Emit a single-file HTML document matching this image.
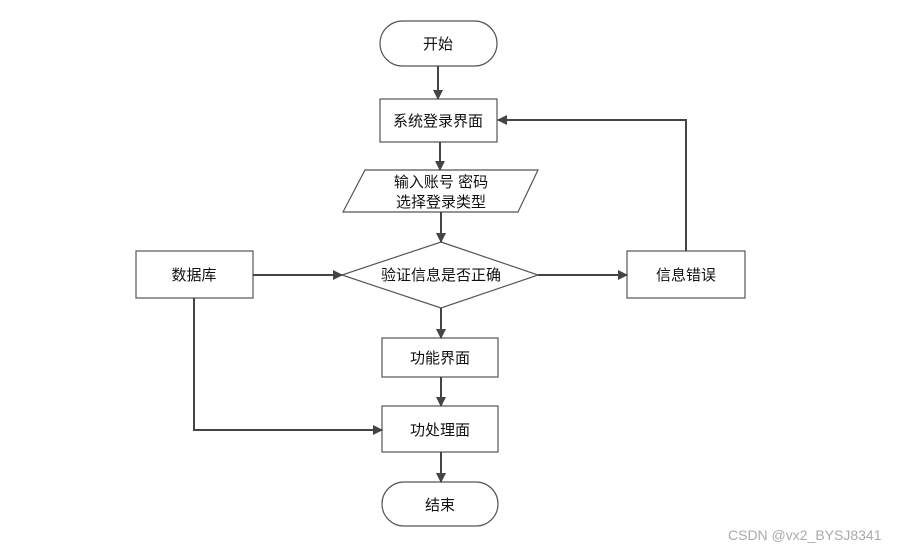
<!DOCTYPE html>
<html><head><meta charset="utf-8"><style>
body{margin:0;background:#fff;}
svg text{font-family:"Liberation Sans","Noto Sans CJK SC",sans-serif;font-size:15px;fill:#111;}
</style></head><body>
<svg width="915" height="549" xmlns="http://www.w3.org/2000/svg">
<defs><marker id="a" markerWidth="10" markerHeight="10" refX="9" refY="5" orient="auto" markerUnits="userSpaceOnUse"><path d="M0,0 L10,5 L0,10 z" fill="#444"/></marker></defs>
<g fill="#fff" stroke="#555" stroke-width="1.2">
<rect x="380" y="21" width="117" height="45" rx="22.5"/>
<rect x="380" y="99" width="117" height="43"/>
<polygon points="365,170 538,170 518,212 343,212"/>
<polygon points="441,242 538,275 441,308 342,275"/>
<rect x="136" y="251" width="117" height="47"/>
<rect x="627" y="251" width="118" height="47"/>
<rect x="382" y="338" width="116" height="39"/>
<rect x="382" y="406" width="116" height="46"/>
<rect x="382" y="482" width="116" height="44" rx="22"/>
</g>
<g stroke="#444" stroke-width="2" fill="none" marker-end="url(#a)">
<line x1="438" y1="66" x2="438" y2="99"/>
<line x1="440" y1="142" x2="440" y2="170"/>
<line x1="441" y1="212" x2="441" y2="242"/>
<line x1="253" y1="275" x2="342" y2="275"/>
<line x1="538" y1="275" x2="627" y2="275"/>
<polyline points="686,251 686,120 498,120"/>
<line x1="441" y1="308" x2="441" y2="338"/>
<line x1="441" y1="377" x2="441" y2="406"/>
<polyline points="194,298 194,430 382,430"/>
<line x1="441" y1="452" x2="441" y2="482"/>
</g>
<g text-anchor="middle">
<text x="438" y="49">开始</text>
<text x="438" y="126">系统登录界面</text>
<text x="441" y="187">输入账号 密码</text>
<text x="441" y="207">选择登录类型</text>
<text x="441" y="280">验证信息是否正确</text>
<text x="194" y="280">数据库</text>
<text x="686" y="280">信息错误</text>
<text x="440" y="363">功能界面</text>
<text x="440" y="435">功处理面</text>
<text x="440" y="510">结束</text>
</g>
<text x="728" y="540" style="font-size:14px;fill:#aaa">CSDN @vx2_BYSJ8341</text>
</svg>
</body></html>
